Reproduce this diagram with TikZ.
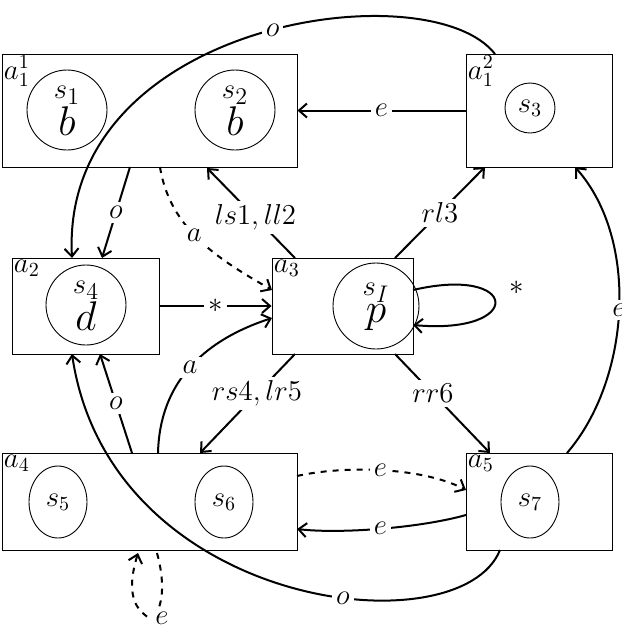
\documentclass[tikz,border=0pt]{standalone}
\usetikzlibrary{arrows.meta,shapes.geometric}
\begin{document}
\begin{tikzpicture}[x=0.5pt,y=-0.5pt,
  box/.style={draw,line width=0.45pt,inner sep=0pt},
  st/.style={draw,circle,line width=0.45pt,inner sep=0pt,minimum size=40pt},
  sm/.style={draw,circle,line width=0.45pt,inner sep=0pt,minimum size=25pt},
  el/.style={draw,ellipse,line width=0.45pt,inner sep=0pt,minimum width=29pt,minimum height=36pt},
  bl/.style={anchor=north west,inner sep=1pt,font=\Large},
  ed/.style={line width=1pt,-{Straight Barb[length=4pt,width=7pt]}},
  lb/.style={fill=white,inner sep=2pt,font=\Large}]
\useasboundingbox (0,0) rectangle (622,629);
\node[box,minimum width=147.5pt,minimum height=56.5pt] (a11) at (149.5,110.5) {};
\node[box,minimum width=73pt,minimum height=56.5pt] (a12) at (539,110.5) {};
\node[box,minimum width=73.5pt,minimum height=48pt] (a2) at (85.5,306) {};
\node[box,minimum width=70.5pt,minimum height=48pt] (a3) at (342.5,306) {};
\node[box,minimum width=147.5pt,minimum height=48.5pt] (a4) at (149.5,501.5) {};
\node[box,minimum width=73pt,minimum height=48.5pt] (a5) at (539,501.5) {};
\node[bl,anchor=north west] (l11) at (a11.north west) {$a_1^1$};
\node[bl] (l12) at (a12.north west) {$a_1^2$};
\node[bl] (l2) at (a2.north west) {$a_2$};
\node[bl] (l3) at (a3.north west) {$a_3$};
\node[bl] (l4) at (a4.north west) {$a_4$};
\node[bl] (l5) at (a5.north west) {$a_5$};
\node[st,font=\huge] (s1) at (67,110) {$\stackrel{s_1}{b}$};
\node[st,font=\huge] (s2) at (235,110) {$\stackrel{s_2}{b}$};
\node[sm,font=\Large] (s3) at (530,108) {$s_3$};
\node[st,font=\huge] (s4) at (86,305) {$\stackrel{s_4}{d}$};
\node[st,font=\huge,minimum size=43pt] (sI) at (376,306) {$\stackrel{s_I}{p}$};
\node[el,font=\Large] (s5) at (58,502) {$s_5$};
\node[el,font=\Large] (s6) at (224,502) {$s_6$};
\node[el,font=\Large] (s7) at (530,502) {$s_7$};
\coordinate (p1) at (495,54); \coordinate (q1) at (72,258);
\draw[ed] (p1) .. controls (430,-30) and (60,20) .. node[lb,pos=0.47]{$o$} (q1);
\draw[ed] (a12.west) -- node[lb]{$e$} (a11.east);
\coordinate (p2) at (130,167); \coordinate (q2) at (102,258);
\draw[ed] (p2) -- node[lb]{$o$} (q2);
\coordinate (p3) at (160,167); \coordinate (q3) at (272,290);
\draw[ed,dashed] (p3) .. controls (170,230) and (220,260) .. node[lb,pos=0.45]{$a$} (q3);
\coordinate (p4) at (295,258); \coordinate (q4) at (207,168);
\draw[ed] (p4) -- node[lb,pos=0.45]{$ls1,ll2$} (q4);
\coordinate (p5) at (395,258); \coordinate (q5) at (485,167);
\draw[ed] (p5) -- node[lb]{$rl3$} (q5);
\draw[ed] (a2.east) -- node[lb]{$*$} (a3.west);
\coordinate (p6) at (413,290); \coordinate (q6) at (413,325);
\draw[ed] (p6) .. controls (520,265) and (525,335) .. (q6);
\node[lb,fill=none] (star) at (517,288) {$*$};
\coordinate (p7) at (567,453); \coordinate (q7) at (575,167);
\draw[ed] (p7) .. controls (630,380) and (640,240) .. node[lb,pos=0.5]{$e$} (q7);
\coordinate (p8) at (158,453); \coordinate (q8) at (272,318);
\draw[ed] (p8) .. controls (160,370) and (220,335) .. node[lb,pos=0.45]{$a$} (q8);
\coordinate (p9) at (132,453); \coordinate (q9) at (100,354);
\draw[ed] (p9) -- node[lb]{$o$} (q9);
\coordinate (p10) at (295,354); \coordinate (q10) at (200,453);
\draw[ed] (p10) -- node[lb,pos=0.4]{$rs4,lr5$} (q10);
\coordinate (p11) at (395,354); \coordinate (q11) at (490,453);
\draw[ed] (p11) -- node[lb,pos=0.4]{$rr6$} (q11);
\coordinate (p12) at (297,476); \coordinate (q12) at (466,490);
\draw[ed,dashed] (p12) .. controls (340,466) and (420,466) .. node[lb]{$e$} (q12);
\coordinate (p13) at (466,515); \coordinate (q13) at (297,529);
\draw[ed] (p13) .. controls (420,528) and (340,534) .. node[lb]{$e$} (q13);
\coordinate (p14) at (500,550); \coordinate (q14) at (72,354);
\draw[ed] (p14) .. controls (460,650) and (110,610) .. node[lb,pos=0.4]{$o$} (q14) ;
\coordinate (p15) at (138,553); \coordinate (p16) at (157,553);
\draw[ed,dashed] (p16) .. controls (170,600) and (155,625) .. (145,615) .. controls (125,600) and (133,570) .. (p15);
\node[lb] (le) at (162,618) {$e$};
\end{tikzpicture}
\end{document}
